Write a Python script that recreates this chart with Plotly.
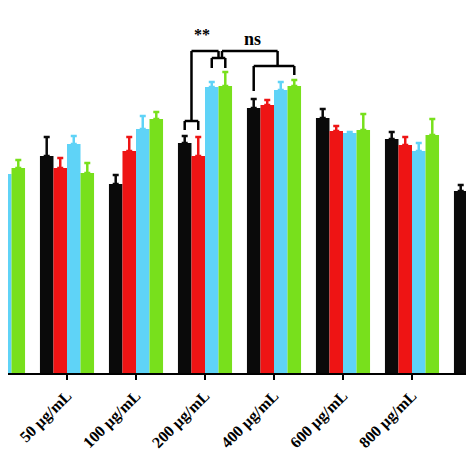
import plotly.graph_objects as go

categories = ["0 µg/mL", "50 µg/mL", "100 µg/mL", "200 µg/mL", "400 µg/mL", "600 µg/mL", "800 µg/mL", "1000 µg/mL"]
black = [205, 217, 189, 230, 265, 255, 234, 182]
red = [200, 205, 222, 217, 268, 242, 228, 214]
blue = [199, 229, 244, 286, 283, 240, 222, 205]
green = [205, 200, 254, 287, 287, 243, 238, 200]
black_err = [8, 19, 9, 7, 9, 9, 7, 6]
red_err = [8, 10, 14, 19, 5, 5, 8, 4]
blue_err = [6, 8, 13, 5, 8, 1, 8, 6]
green_err = [8, 10, 7, 14, 6, 16, 16, 6]

colors = ["#0a0a0a", "#ee1414", "#5fd3f7", "#78e01c"]
series = [black, red, blue, green]
errs = [black_err, red_err, blue_err, green_err]
xs = list(range(len(categories)))

fig = go.Figure()
for vals, err, c in zip(series, errs, colors):
    fig.add_trace(go.Bar(x=xs, y=vals, marker=dict(color=c, line=dict(width=0)),
                         error_y=dict(type="data", symmetric=False, array=err, arrayminus=[0]*len(err),
                                      color=c, thickness=2.5, width=3)))

bw = 0.196
def bx(g, i):
    return g + (i - 1.5) * bw

line = dict(color="black", width=2.5)
def seg(x0, y0, x1, y1):
    fig.add_shape(type="line", x0=x0, y0=y0, x1=x1, y1=y1, line=line)

g = 3
y_low = 252; y_hi = 322; y_top = 315
seg(bx(g, 0), y_low - 9, bx(g, 0), y_low); seg(bx(g, 1), y_low - 9, bx(g, 1), y_low); seg(bx(g, 0), y_low, bx(g, 1), y_low)
seg(bx(g, 2), y_top - 10, bx(g, 2), y_top); seg(bx(g, 3), y_top - 10, bx(g, 3), y_top); seg(bx(g, 2), y_top, bx(g, 3), y_top)
lm = (bx(g, 0) + bx(g, 1)) / 2; rm = (bx(g, 2) + bx(g, 3)) / 2
seg(lm, y_low, lm, y_hi); seg(lm, y_hi, rm, y_hi); seg(rm, y_hi, rm, y_top)
g2 = 4
seg(rm + 0.05, y_top, rm + 0.05, y_hi); seg(rm + 0.05, y_hi, bx(g2, 1) + 0.15, y_hi)
seg(bx(g2, 1) + 0.15, y_hi, bx(g2, 1) + 0.15, 307)
seg(bx(g2, 0), 307, bx(g2, 3), 307)
seg(bx(g2, 0), 307, bx(g2, 0), 282); seg(bx(g2, 3), 307, bx(g2, 3), 298)
fig.add_annotation(x=lm + (rm - lm) / 2 - 0.05, y=328, text="<b>**</b>", showarrow=False, yanchor="bottom",
                   font=dict(family="Liberation Serif", size=16, color="black"))
fig.add_annotation(x=(rm + bx(g2, 1) + 0.15) / 2 + 0.07, y=322, text="<b>ns</b>", showarrow=False, yanchor="bottom",
                   font=dict(family="Liberation Serif", size=18, color="black"))

fig.update_layout(
    width=474, height=474, margin=dict(l=0, r=0, t=0, b=109, autoexpand=False),
    paper_bgcolor="white", plot_bgcolor="white", showlegend=False,
    barmode="group", bargap=0.216, bargroupgap=0,
    xaxis=dict(range=[1 - 59/69, 1 + 415/69], tickvals=xs, ticktext=["<b>%s</b>" % c for c in categories],
               tickangle=-45, ticks="outside", ticklen=5, tickwidth=2, tickcolor="black", automargin=False,
               showline=True, linecolor="black", linewidth=2, showgrid=False, zeroline=False,
               tickfont=dict(family="Liberation Serif", size=16, color="black")),
    yaxis=dict(range=[0, 365], visible=False, showgrid=False, zeroline=False, automargin=False),
)
fig.write_html("out.html")
